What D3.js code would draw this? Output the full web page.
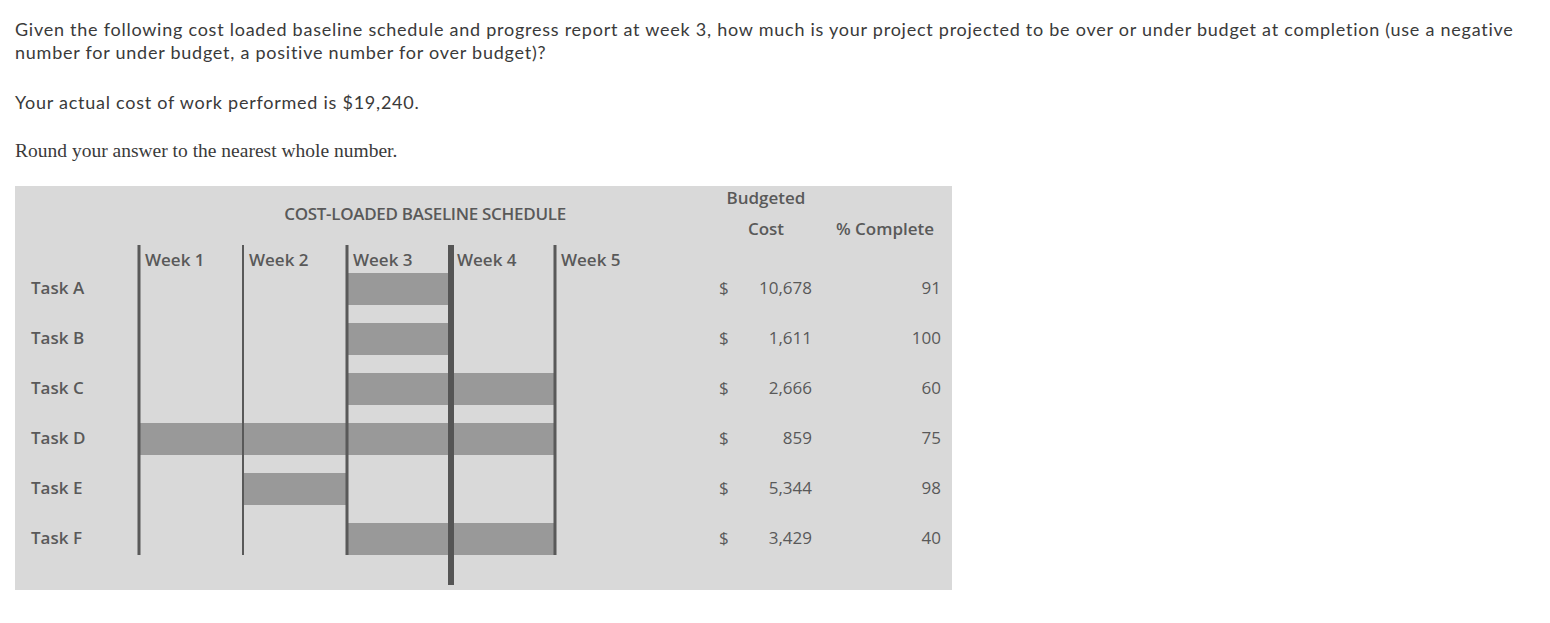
<!DOCTYPE html>
<html><head><meta charset="utf-8">
<script src="https://cdn.jsdelivr.net/npm/d3@7"></script>
<style>
body{margin:0;background:#fff;}
</style></head>
<body><svg id="chart" width="1550" height="623"></svg>
<script>
const tasks = ["Task A", "Task B", "Task C", "Task D", "Task E", "Task F"];
const weeks = ["Week 1", "Week 2", "Week 3", "Week 4", "Week 5"];
// bar start / end, in week numbers (1 = start of week 1)
const barStart = [3, 3, 3, 1, 2, 3];
const barEnd = [4, 4, 5, 5, 3, 5];
const budgeted = [10678, 1611, 2666, 859, 5344, 3429];
const pctComplete = [91, 100, 60, 75, 98, 40];

const svg = d3.select("#chart");
const sans = "Lato, 'Open Sans', sans-serif";

// question text
const qLines = [
  ["Given the following cost loaded baseline schedule and progress report at week 3, how much is your project projected to be over or under budget at completion (use a negative", 30],
  ["number for under budget, a positive number for over budget)?", 53],
  ["Your actual cost of work performed is $19,240.", 103]
];
svg.selectAll("text.q").data(qLines).join("text")
  .attr("x", 15).attr("y", d => d[1] + 6)
  .attr("font-family", sans).attr("font-size", 18).attr("letter-spacing", 0.75).attr("fill", "#3a3a3a")
  .text(d => d[0]);
svg.append("text").attr("x", 15).attr("y", 157)
  .attr("font-family", "'Liberation Serif', 'DejaVu Serif', serif").attr("font-size", 19.5).attr("fill", "#3a3a3a")
  .text("Round your answer to the nearest whole number.");

// panel
svg.append("rect").attr("x", 15).attr("y", 186).attr("width", 937).attr("height", 404).attr("fill", "#d9d9d9");

const x = d3.scaleLinear().domain([1, 6]).range([139, 659]);
const y = d3.scaleBand().domain(tasks).range([264, 564]).paddingInner(0.36).paddingOuter(0.18);

const grey = "#595959";
const font = "'Open Sans', sans-serif";

svg.append("text").attr("x", 425).attr("y", 220).attr("text-anchor", "middle")
  .attr("font-family", font).attr("font-weight", 600).attr("font-size", 17).attr("fill", grey)
  .attr("letter-spacing", -0.3)
  .text("COST-LOADED BASELINE SCHEDULE");

// bars
svg.selectAll("rect.bar").data(tasks).join("rect")
  .attr("x", (d, i) => x(barStart[i])).attr("width", (d, i) => x(barEnd[i]) - x(barStart[i]))
  .attr("y", d => y(d)).attr("height", y.bandwidth())
  .attr("fill", "#999999");

// week lines
svg.selectAll("line.wk").data(weeks).join("line")
  .attr("x1", (d, i) => x(i + 1)).attr("x2", (d, i) => x(i + 1))
  .attr("y1", 245).attr("y2", (d, i) => i === 3 ? 585 : 555)
  .attr("stroke", (d, i) => i === 3 ? "#555" : grey)
  .attr("stroke-width", (d, i) => i === 3 ? 6 : (i === 1 ? 2 : 3));

svg.selectAll("text.wk").data(weeks).join("text")
  .attr("x", (d, i) => x(i + 1) + 6).attr("y", 266)
  .attr("font-family", font).attr("font-weight", 600).attr("font-size", 17).attr("fill", grey)
  .text(d => d);

const rowY = d => y(d) + y.bandwidth() / 2 - 1;

svg.selectAll("text.task").data(tasks).join("text")
  .attr("x", 31).attr("y", d => rowY(d) + 6)
  .attr("font-family", font).attr("font-weight", 600).attr("font-size", 17).attr("fill", grey)
  .text(d => d);

// table headers
const hdr = [["Budgeted", 766, 204], ["Cost", 766, 235], ["% Complete", 885, 235]];
svg.selectAll("text.hdr").data(hdr).join("text")
  .attr("x", d => d[1]).attr("y", d => d[2]).attr("text-anchor", "middle")
  .attr("font-family", font).attr("font-weight", 600).attr("font-size", 17).attr("fill", grey)
  .text(d => d[0]);

svg.selectAll("text.dol").data(tasks).join("text")
  .attr("x", 719).attr("y", d => rowY(d) + 6)
  .attr("font-family", font).attr("font-size", 17).attr("fill", grey).text("$");
svg.selectAll("text.cost").data(tasks).join("text")
  .attr("x", 812).attr("y", d => rowY(d) + 6).attr("text-anchor", "end")
  .attr("font-family", font).attr("font-size", 17).attr("fill", grey)
  .text((d, i) => d3.format(",")(budgeted[i]));
svg.selectAll("text.pct").data(tasks).join("text")
  .attr("x", 941).attr("y", d => rowY(d) + 6).attr("text-anchor", "end")
  .attr("font-family", font).attr("font-size", 17).attr("fill", grey)
  .text((d, i) => pctComplete[i]);
</script></body></html>
